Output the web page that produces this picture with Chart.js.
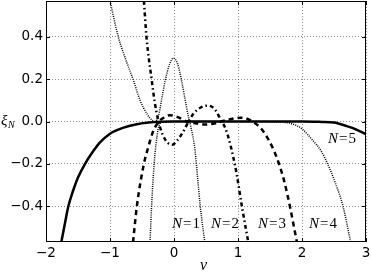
<!DOCTYPE html>
<html>
<head>
<meta charset="utf-8">
<script src="https://cdn.jsdelivr.net/npm/chart.js@4.4.1/dist/chart.umd.min.js"></script>
<style>
  html, body { margin: 0; padding: 0; background: #fff; }
  #wrap { width: 371px; height: 273px; }
</style>
</head>
<body>
<div id="wrap"><canvas id="chart" width="371" height="273"></canvas></div>
<script>
// values
const xTicks = [-2, -1, 0, 1, 2, 3];
const yTicks = [-0.4, -0.2, 0.0, 0.2, 0.4];

const nu1 = [-1.0, -0.87, -0.75, -0.64, -0.53, -0.42, -0.35, -0.3, -0.24, -0.19, -0.14, -0.07, -0.01, 0.06, 0.12, 0.17, 0.22, 0.26, 0.33, 0.37, 0.41, 0.48];
const xi1 = [0.57, 0.40, 0.29, 0.20, 0.10, 0.035, 0.008, 0.0, 0.03, 0.11, 0.19, 0.27, 0.30, 0.27, 0.19, 0.11, 0.03, -0.02, -0.14, -0.27, -0.40, -0.57];

const nu2 = [-0.47, -0.43, -0.35, -0.30, -0.25, -0.18, -0.1, -0.03, 0.05, 0.14, 0.22, 0.30, 0.41, 0.53, 0.63, 0.72, 0.80, 0.85, 0.92, 0.98, 1.06, 1.16];
const xi2 = [0.57, 0.40, 0.20, 0.09, 0.01, -0.06, -0.10, -0.11, -0.09, -0.05, -0.005, 0.035, 0.065, 0.075, 0.06, 0.015, -0.03, -0.075, -0.16, -0.25, -0.40, -0.57];

const nu3 = [-0.64, -0.58, -0.47, -0.41, -0.33, -0.25, -0.15, -0.07, 0.05, 0.2, 0.38, 0.48, 0.65, 0.8, 0.95, 1.05, 1.15, 1.25, 1.38, 1.55, 1.64, 1.72, 1.81, 1.92];
const xi3 = [-0.57, -0.40, -0.20, -0.13, -0.05, -0.005, 0.02, 0.03, 0.022, 0.0, -0.01, -0.014, -0.008, 0.005, 0.015, 0.018, 0.012, -0.005, -0.04, -0.13, -0.20, -0.28, -0.40, -0.57];

const nu4 = [-0.375, -0.35, -0.31, -0.25, -0.2, -0.1, 0.3, 0.8, 1.3, 1.6, 1.75, 1.86, 2.0, 2.17, 2.3, 2.4, 2.52, 2.64, 2.76];
const xi4 = [-0.57, -0.40, -0.20, -0.04, -0.005, 0.0, 0.0, 0.0, 0.0, -0.002, -0.005, -0.012, -0.035, -0.09, -0.14, -0.20, -0.29, -0.40, -0.57];

const nu5 = [-1.76, -1.70, -1.65, -1.58, -1.5, -1.39, -1.28, -1.16, -1.0, -0.9, -0.8, -0.6, -0.4, -0.2, 0.0, 0.5, 1.0, 1.5, 2.0, 2.3, 2.5, 2.7, 2.85, 3.0];
const xi5 = [-0.57, -0.475, -0.40, -0.33, -0.265, -0.20, -0.148, -0.10, -0.058, -0.042, -0.03, -0.014, -0.005, -0.001, 0.0, 0.0, 0.0, 0.0, 0.0, -0.002, -0.005, -0.022, -0.038, -0.06];

const curveLabels = ['1', '2', '3', '4', '5'];

const pts = (xs, ys) => xs.map((x, i) => ({ x: x, y: ys[i] }));
const line = (xs, ys, width, dash) => ({
  data: pts(xs, ys),
  borderColor: '#000',
  borderWidth: width,
  borderDash: dash,
  showLine: true,
  pointRadius: 0,
  cubicInterpolationMode: 'monotone',
  fill: false
});

const minus = s => s.replace('-', '\u2212');

// frame, inward ticks, axis titles and the N= labels
const decor = {
  id: 'decor',
  afterDraw(chart) {
    const { ctx, chartArea: a, scales: { x, y } } = chart;
    ctx.save();
    ctx.strokeStyle = '#000';
    ctx.lineWidth = 1;
    ctx.setLineDash([]);
    ctx.beginPath();
    xTicks.forEach(v => {
      const px = Math.round(x.getPixelForValue(v)) + 0.5;
      ctx.moveTo(px, a.bottom); ctx.lineTo(px, a.bottom - 4);
      ctx.moveTo(px, a.top); ctx.lineTo(px, a.top + 4);
    });
    yTicks.forEach(v => {
      const py = Math.round(y.getPixelForValue(v)) + 0.5;
      ctx.moveTo(a.left, py); ctx.lineTo(a.left + 4, py);
      ctx.moveTo(a.right, py); ctx.lineTo(a.right - 4, py);
    });
    ctx.stroke();
    ctx.strokeRect(Math.round(a.left) + 0.5, Math.round(a.top) + 0.5,
      Math.round(a.right - a.left) - 1, Math.round(a.bottom - a.top) - 1);

    ctx.fillStyle = '#000';
    ctx.textBaseline = 'alphabetic';
    // y title
    ctx.font = 'italic 15px "Liberation Serif"';
    ctx.fillText('\u03BE', 1, 125);
    ctx.font = 'italic 10px "Liberation Serif"';
    ctx.fillText('N', 8, 128);
    // x title
    ctx.font = 'italic 16px "Liberation Serif"';
    ctx.fillText('\u03BD', 200, 270);

    // curve labels
    const spots = [[172, 228], [211, 228], [258, 228], [309, 228], [328, 143]];
    spots.forEach(([lx, ly], i) => {
      ctx.font = 'italic 15px "Liberation Serif"';
      ctx.fillText('N', lx, ly);
      let cx = lx + ctx.measureText('N').width + 1;
      ctx.font = '15px "Liberation Serif"';
      ctx.fillText('=', cx, ly);
      cx += ctx.measureText('=').width + 1;
      ctx.fillText(curveLabels[i], cx, ly);
    });
    ctx.restore();
  }
};

const gridOpts = { color: 'rgba(0,0,0,0.45)', drawTicks: false, lineWidth: 1 };
const borderOpts = { display: false, dash: [1, 2] };
const tickFont = { family: 'DejaVu Sans', size: 13.5 };

new Chart(document.getElementById('chart'), {
  type: 'scatter',
  data: {
    datasets: [
      line(nu1, xi1, 1.5, [1, 1.2]),
      line(nu2, xi2, 2.5, [4, 3, 1.5, 3]),
      line(nu3, xi3, 2.5, [5, 4]),
      line(nu4, xi4, 1.5, [1, 1.2]),
      line(nu5, xi5, 2.5, [])
    ]
  },
  options: {
    responsive: false,
    animation: false,
    layout: { padding: { left: 0, right: 5, top: 1, bottom: 0 } },
    plugins: { legend: { display: false }, tooltip: { enabled: false } },
    scales: {
      x: {
        type: 'linear',
        min: -2,
        max: 3,
        afterBuildTicks: s => { s.ticks = xTicks.map(v => ({ value: v })); },
        afterFit: s => { s.height = 31; s.paddingLeft = 0; s.paddingRight = 0; },
        grid: gridOpts,
        border: borderOpts,
        ticks: { padding: 3, color: '#000', font: tickFont, maxRotation: 0, callback: v => minus(String(v)) }
      },
      y: {
        type: 'linear',
        min: -0.57,
        max: 0.57,
        afterBuildTicks: s => { s.ticks = yTicks.map(v => ({ value: v })); },
        afterFit: s => { s.width = 46; s.paddingTop = 0; s.paddingBottom = 0; },
        grid: gridOpts,
        border: borderOpts,
        ticks: { padding: 3, color: '#000', font: tickFont, callback: v => minus(v.toFixed(1)) }
      }
    }
  },
  plugins: [decor]
});
</script>
</body>
</html>
